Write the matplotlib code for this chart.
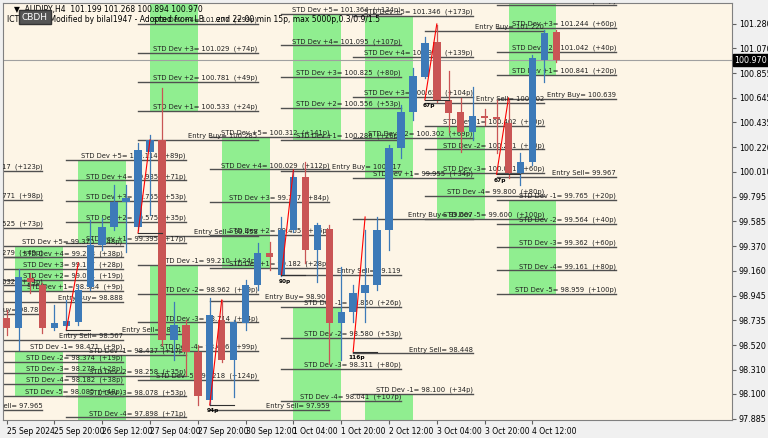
import matplotlib
matplotlib.use("Agg")
import matplotlib.pyplot as plt

# H4 Kerzen AUDJPY, Index 0 = 25 Sep 04:00
opens  = [98.753, 98.667, 99.097, 99.036, 98.667, 98.684, 98.718, 99.019, 99.380, 99.535,
          99.750, 99.535, 100.180, 100.283, 98.564, 98.693, 98.461, 98.048, 98.736, 98.392,
          98.710, 99.036, 99.311, 99.122, 99.509, 99.965, 99.337, 99.518, 98.710, 98.804,
          98.968, 99.036, 99.509, 100.214, 100.523, 100.824, 101.125, 100.627, 100.523, 100.351,
          100.489, 100.480, 100.429, 99.999, 100.094, 100.970, 101.211]
highs  = [98.822, 99.174, 99.140, 99.054, 98.865, 98.907, 99.036, 99.595, 99.612, 99.896,
          99.896, 100.257, 100.326, 100.730, 98.890, 98.736, 98.521, 98.925, 98.907, 98.736,
          99.080, 99.397, 99.406, 99.621, 100.025, 100.094, 99.569, 99.552, 99.191, 99.036,
          99.509, 99.621, 100.240, 100.584, 100.902, 101.168, 101.271, 100.876, 100.644, 100.738,
          100.549, 100.627, 100.627, 100.171, 101.013, 101.228, 101.228]
lows   = [98.607, 98.478, 98.968, 98.624, 98.650, 98.650, 98.693, 98.993, 99.337, 99.509,
          99.320, 99.509, 99.638, 98.521, 98.392, 98.263, 98.005, 98.005, 98.375, 98.074,
          98.650, 98.993, 99.165, 99.110, 99.492, 99.226, 99.062, 98.366, 98.392, 98.718,
          98.718, 98.993, 99.337, 100.128, 100.455, 100.816, 100.609, 100.351, 100.180, 100.283,
          100.412, 100.171, 99.956, 99.896, 100.068, 100.781, 100.953]
closes = [98.667, 99.105, 99.062, 98.667, 98.707, 98.727, 98.993, 99.380, 99.535, 99.750,
          99.784, 100.197, 100.283, 98.564, 98.693, 98.461, 98.082, 98.779, 98.392, 98.718,
          99.036, 99.311, 99.277, 99.509, 99.965, 99.337, 99.552, 98.710, 98.804, 98.968,
          99.036, 99.509, 100.214, 100.523, 100.833, 101.116, 100.627, 100.515, 100.351, 100.489,
          100.472, 100.463, 99.999, 100.094, 100.988, 101.202, 100.970]

time_labels = ["25 Sep 2024", "25 Sep 20:00", "26 Sep 12:00", "27 Sep 04:00", "27 Sep 20:00",
               "30 Sep 12:00", "1 Oct 04:00", "1 Oct 20:00", "2 Oct 12:00", "3 Oct 04:00",
               "3 Oct 20:00", "4 Oct 12:00"]
price_ticks = [101.280, 101.070, 100.855, 100.645, 100.435, 100.220, 100.010, 99.795, 99.585,
               99.370, 99.160, 98.945, 98.735, 98.520, 98.310, 98.100, 97.885]

# Gruppen: Startindex der Linien, Entry Buy / Sell, STD Dev Level (+1..+5 / -1..-5), Pips
grp_start = [-10, -0.3, 5, 11, 17, 23, 29, 35, 41]
grp_buy   = [98.786, 98.888, None, 100.285, 98.900, 100.017, 99.607, 101.220, 100.639]
grp_sell  = [97.965, 98.567, 98.617, 99.458, 97.959, 99.119, 98.448, 100.602, 99.967]
grp_up = [
    [99.032, 99.279, 99.525, 99.771, 100.017],
    [98.984, 99.081, 99.177, 99.273, 99.370],
    [99.395, 99.575, 99.755, 99.935, 100.114],
    [100.533, 100.781, 101.029, 101.277, 101.525],
    [99.182, 99.465, 99.747, 100.029, 100.312],
    [100.286, 100.556, 100.825, 101.095, 101.364],
    [99.955, 100.302, 100.650, 100.998, 101.346],
    [],
    [100.841, 101.042, 101.244, 101.445, 101.647],
]
grp_down = [
    [],
    [98.471, 98.374, 98.278, 98.182, 98.085],
    [98.437, 98.258, 98.078, 97.898, 97.719],
    [99.210, 98.962, 98.714, 98.466, 98.218],
    [],
    [98.850, 98.580, 98.311, 98.041, 97.772],
    [98.100, 97.752],
    [100.402, 100.201, 100.001, 99.800, 99.600],
    [99.765, 99.564, 99.362, 99.161, 98.959],
]
grp_pips = [[24, 49, 73, 98, 123], [9, 19, 28, 38, 48], [17, 35, 53, 71, 89],
            [24, 49, 74, 99, 124], [28, 56, 84, 112, 141], [26, 53, 80, 107, 134],
            [34, 69, 104, 139, 173], [20, 40, 60, 80, 100], [20, 40, 60, 80, 100]]

# Zickzack (rot): Startbar, Startpreis, Endbar, Endpreis, Pips
zz_i0 = [5, 11, 17, 23, 29, 35, 41]
zz_p0 = [98.650, 99.483, 98.005, 99.122, 98.461, 100.627, 99.988]
zz_i1 = [6, 12, 18, 24, 30, 36, 42]
zz_p1 = [99.226, 100.283, 98.907, 100.025, 99.621, 101.280, 100.644]
zz_lbl = ["", "", "94p", "90p", "116p", "67p", "67p"]

current = 100.970

bg = "#fdf5e6"
fig = plt.figure(figsize=(7.68, 4.38), dpi=100)
fig.patch.set_facecolor("#f0f0f0")
ax = fig.add_axes([3 / 768, 18 / 438, 729 / 768, 417 / 438])
ax.set_facecolor(bg)
ymin, ymax = 97.876, 101.46
ax.set_xlim(-0.3, 60.7)
ax.set_ylim(ymin, ymax)

fs = 4.9
for g in range(len(grp_start)):
    s = grp_start[g]
    e = s + 10 if s > -1 else (9 if s > -5 else 3)
    x0 = max(s, -0.3)
    # gruene Bereiche zwischen +1..+5 und -1..-5
    bx0, bx1 = s + 1, s + 5
    if grp_up[g] and s > -5:
        ax.fill_between([bx0, bx1], grp_up[g][0], grp_up[g][-1], color="#90ee90", zorder=0, lw=0)
    if grp_down[g] and s > -5:
        ax.fill_between([bx0, bx1], grp_down[g][0], grp_down[g][-1] if len(grp_down[g]) == 5 else ymin,
                        color="#90ee90", zorder=0, lw=0)
    levels = []
    if grp_buy[g] is not None:
        levels.append((grp_buy[g], f"Entry Buy= {grp_buy[g]:.3f}"))
    levels.append((grp_sell[g], f"Entry Sell= {grp_sell[g]:.3f}"))
    for k, p in enumerate(grp_up[g]):
        levels.append((p, f"STD Dev +{k+1}= {p:.3f}  (+{grp_pips[g][k]}p)"))
    for k, p in enumerate(grp_down[g]):
        levels.append((p, f"STD Dev -{k+1}= {p:.3f}  (+{grp_pips[g][k]}p)"))
    for p, txt in levels:
        ax.plot([x0, e], [p, p], color="#505050", lw=1.0, zorder=2)
        ax.text(e, p + 0.008, txt, fontsize=fs, ha="right", va="bottom", color="#202020",
                zorder=3, clip_on=True)

# Kerzen
for i in range(len(opens)):
    up = closes[i] >= opens[i]
    col = "#3d7ab8" if up else "#c95555"
    ax.plot([i, i], [lows[i], highs[i]], color=col, lw=0.9, zorder=4)
    lo, hi = min(opens[i], closes[i]), max(opens[i], closes[i])
    ax.bar(i, max(hi - lo, 0.006), bottom=lo, width=0.62, color=col, zorder=5, lw=0)

for a, pa, b, pb, lbl in zip(zz_i0, zz_p0, zz_i1, zz_p1, zz_lbl):
    ax.plot([a, b], [pa, pb], color="red", lw=0.8, zorder=6)
    ax.plot([a, b + 1], [pa, pa], color="#303030", lw=0.8, zorder=6)
    if lbl:
        ax.text(a + 0.3, pa - 0.03, lbl, fontsize=4.2, fontweight="bold", ha="center", va="top", zorder=6)

ax.axhline(current, color="#a0a0a0", lw=0.8, zorder=1)

ax.yaxis.tick_right()
ax.set_yticks(price_ticks)
ax.set_yticklabels([f"{t:.3f}" for t in price_ticks], fontsize=5.8)
ax.set_xticks(range(0, 48, 4))
ax.set_xticklabels(time_labels, fontsize=5.5, ha="left")
ax.tick_params(length=3, color="#606060", pad=2)
for sp in ax.spines.values():
    sp.set_color("#808080")
ax.text(1.003, (current - ymin) / (ymax - ymin), f"{current:.3f}", transform=ax.transAxes,
        fontsize=5.8, color="white", va="center", ha="left",
        bbox=dict(boxstyle="square,pad=0.2", fc="black", ec="black"))

fig.text(14 / 768, 1 - 9 / 438, "\u25bc  AUDJPY,H4  101.199 101.268 100.894 100.970", fontsize=5.5, va="center")
fig.text(7 / 768, 1 - 19 / 438,
         "ICT CBGF - Modified by bilal1947 - Adopted from LB...  end 22:00 min 15p, max 5000p,0.3/0.9/1.5",
         fontsize=5.5, va="center")
fig.text(22 / 768, 1 - 17 / 438, "CBDH", fontsize=6.5, color="white", va="center",
         bbox=dict(boxstyle="square,pad=0.3", fc="#555555", ec="#333333"))

fig.savefig("out.png", dpi=100, facecolor=fig.get_facecolor())
